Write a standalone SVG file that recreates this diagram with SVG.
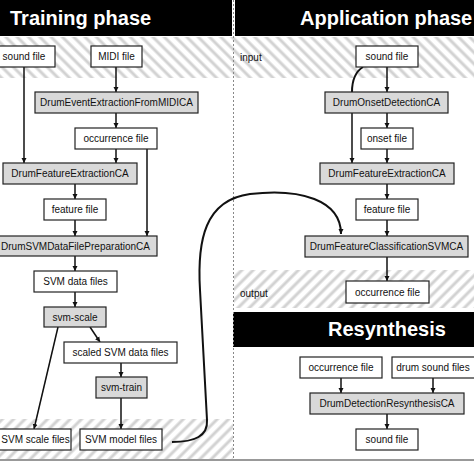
<svg xmlns="http://www.w3.org/2000/svg" width="474" height="474" viewBox="0 0 474 474">
<style>
.bar{fill:#000}
.title{font-family:"Liberation Sans",Arial,sans-serif;font-size:20px;font-weight:bold;fill:#fff}
.file{fill:#fff;stroke:#222;stroke-width:1.2}
.proc{fill:#d9d9d9;stroke:#222;stroke-width:1.2}
.lbl{font-family:"Liberation Sans",Arial,sans-serif;font-size:10px;fill:#111;text-anchor:middle}
.side{font-family:"Liberation Sans",Arial,sans-serif;font-size:10px;fill:#111}
.c{fill:none;stroke:#111;stroke-width:1.5}
.curve{fill:none;stroke:#111;stroke-width:2}
</style>
<defs>
<pattern id="hatchB" patternUnits="userSpaceOnUse" width="8" height="8" patternTransform="rotate(-45)">
<rect width="8" height="8" fill="#fff"/>
<line x1="2" y1="0" x2="2" y2="8" stroke="#d2d2d2" stroke-width="3"/>
</pattern>
<pattern id="hatchF" patternUnits="userSpaceOnUse" width="8" height="8" patternTransform="rotate(45)">
<rect width="8" height="8" fill="#fff"/>
<line x1="2" y1="0" x2="2" y2="8" stroke="#d2d2d2" stroke-width="3"/>
</pattern>
<marker id="arr" markerWidth="6" markerHeight="6" refX="5" refY="3" orient="auto" markerUnits="userSpaceOnUse">
<path d="M0,0.5 L5,3 L0,5.5 Z" fill="#111"/>
</marker>
</defs>
<rect width="474" height="474" fill="#fff"/>
<g id="background">
<rect x="0" y="37" width="474" height="41" fill="url(#hatchB)"/>
<rect x="0" y="419" width="233" height="41" fill="url(#hatchF)"/>
<rect x="234" y="270" width="240" height="38" fill="url(#hatchF)"/>
<rect class="bar" x="0" y="0" width="232" height="36"/>
<rect class="bar" x="235" y="0" width="239" height="36"/>
<rect class="bar" x="233" y="312" width="241" height="35"/>
<text class="title" x="10" y="25">Training phase</text>
<text class="title" x="300" y="25">Application phase</text>
<text class="title" x="328" y="336">Resynthesis</text>
<line x1="233.5" y1="0" x2="233.5" y2="460" stroke="#888" stroke-width="1" stroke-dasharray="2,2"/>
<line x1="0" y1="460" x2="474" y2="460" stroke="#999" stroke-width="2"/>
<text class="side" x="240" y="61">input</text>
<text class="side" x="240" y="297">output</text>
</g>
<g id="connectors">
<line class="c" x1="24" y1="67" x2="24" y2="163" marker-end="url(#arr)"/>
<line class="c" x1="116" y1="67" x2="116" y2="92" marker-end="url(#arr)"/>
<line class="c" x1="116" y1="113" x2="116" y2="128" marker-end="url(#arr)"/>
<line class="c" x1="116" y1="149" x2="116" y2="163" marker-end="url(#arr)"/>
<line class="c" x1="147" y1="149" x2="147" y2="236" marker-end="url(#arr)"/>
<line class="c" x1="75" y1="184" x2="75" y2="199" marker-end="url(#arr)"/>
<line class="c" x1="75" y1="220" x2="75" y2="236" marker-end="url(#arr)"/>
<line class="c" x1="75" y1="256" x2="75" y2="271" marker-end="url(#arr)"/>
<line class="c" x1="75" y1="292" x2="75" y2="307" marker-end="url(#arr)"/>
<line class="c" x1="58" y1="327" x2="34" y2="429" marker-end="url(#arr)"/>
<line class="c" x1="90" y1="327" x2="100" y2="342" marker-end="url(#arr)"/>
<line class="c" x1="121" y1="363" x2="121" y2="377" marker-end="url(#arr)"/>
<line class="c" x1="121" y1="398" x2="121" y2="429" marker-end="url(#arr)"/>
<path class="curve" d="M172,442 C195,442 208,436 207,420 L200,290 C197,240 205,200 250,194 C300,188 341,200 341,234" marker-end="url(#arr)"/>
<line class="c" x1="387" y1="67" x2="387" y2="92" marker-end="url(#arr)"/>
<path class="curve" d="M363,67 C355,72 352,80 352,92"/>
<line class="c" x1="387" y1="113" x2="387" y2="128" marker-end="url(#arr)"/>
<line class="c" x1="352" y1="113" x2="352" y2="163" marker-end="url(#arr)"/>
<line class="c" x1="387" y1="149" x2="387" y2="163" marker-end="url(#arr)"/>
<line class="c" x1="387" y1="184" x2="387" y2="199" marker-end="url(#arr)"/>
<line class="c" x1="387" y1="220" x2="387" y2="236" marker-end="url(#arr)"/>
<line class="c" x1="387" y1="257" x2="387" y2="281" marker-end="url(#arr)"/>
<line class="c" x1="341" y1="378" x2="341" y2="393" marker-end="url(#arr)"/>
<line class="c" x1="433" y1="378" x2="433" y2="393" marker-end="url(#arr)"/>
<line class="c" x1="387" y1="414" x2="387" y2="429" marker-end="url(#arr)"/>
</g>
<g id="n-soundfile-l"><rect class="file" x="-7" y="46" width="62" height="21"/><text class="lbl" x="24" y="60">sound file</text></g>
<g id="n-midi"><rect class="file" x="91" y="46" width="51" height="21"/><text class="lbl" x="116.5" y="60">MIDI file</text></g>
<g id="n-deefm"><rect class="proc" x="35" y="92" width="163" height="21"/><text class="lbl" x="116.5" y="106">DrumEventExtractionFromMIDICA</text></g>
<g id="n-occ-l"><rect class="file" x="75" y="128" width="82" height="21"/><text class="lbl" x="116" y="142">occurrence file</text></g>
<g id="n-dfe-l"><rect class="proc" x="3" y="163" width="134" height="21"/><text class="lbl" x="70" y="177">DrumFeatureExtractionCA</text></g>
<g id="n-feat-l"><rect class="file" x="44" y="199" width="62" height="21"/><text class="lbl" x="75" y="213">feature file</text></g>
<g id="n-svmprep"><rect class="proc" x="-7" y="236" width="164" height="20"/><text class="lbl" x="75.5" y="250">DrumSVMDataFilePreparationCA</text></g>
<g id="n-svmdata"><rect class="file" x="34" y="271" width="83" height="21"/><text class="lbl" x="75.5" y="285">SVM data files</text></g>
<g id="n-svmscale"><rect class="proc" x="44" y="307" width="62" height="20"/><text class="lbl" x="75" y="321">svm-scale</text></g>
<g id="n-scaled"><rect class="file" x="64" y="342" width="113" height="21"/><text class="lbl" x="120.5" y="356">scaled SVM data files</text></g>
<g id="n-svmtrain"><rect class="proc" x="96" y="377" width="51" height="21"/><text class="lbl" x="121.5" y="391">svm-train</text></g>
<g id="n-scalefiles"><rect class="file" x="-6" y="429" width="77" height="21"/><text class="lbl" x="35.5" y="443">SVM scale files</text></g>
<g id="n-modelfiles"><rect class="file" x="80" y="429" width="82" height="21"/><text class="lbl" x="121" y="443">SVM model files</text></g>
<g id="n-soundfile-r"><rect class="file" x="356" y="46" width="62" height="21"/><text class="lbl" x="387" y="60">sound file</text></g>
<g id="n-onsetdet"><rect class="proc" x="325" y="92" width="123" height="21"/><text class="lbl" x="386.5" y="106">DrumOnsetDetectionCA</text></g>
<g id="n-onset"><rect class="file" x="361" y="128" width="52" height="21"/><text class="lbl" x="387" y="142">onset file</text></g>
<g id="n-dfe-r"><rect class="proc" x="320" y="163" width="134" height="21"/><text class="lbl" x="387" y="177">DrumFeatureExtractionCA</text></g>
<g id="n-feat-r"><rect class="file" x="356" y="199" width="62" height="21"/><text class="lbl" x="387" y="213">feature file</text></g>
<g id="n-dfc"><rect class="proc" x="305" y="236" width="163" height="21"/><text class="lbl" x="386.5" y="250">DrumFeatureClassificationSVMCA</text></g>
<g id="n-occ-r"><rect class="file" x="346" y="281" width="83" height="22"/><text class="lbl" x="387.5" y="296">occurrence file</text></g>
<g id="n-occ-res"><rect class="file" x="300" y="357" width="82" height="21"/><text class="lbl" x="341" y="371">occurrence file</text></g>
<g id="n-drumsounds"><rect class="file" x="392" y="357" width="84" height="21"/><text class="lbl" x="433" y="371">drum sound files</text></g>
<g id="n-ddr"><rect class="proc" x="310" y="393" width="154" height="21"/><text class="lbl" x="387" y="407">DrumDetectionResynthesisCA</text></g>
<g id="n-soundfile-res"><rect class="file" x="356" y="429" width="62" height="21"/><text class="lbl" x="387" y="443">sound file</text></g>
</svg>
